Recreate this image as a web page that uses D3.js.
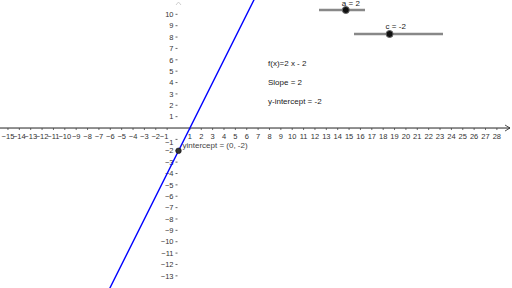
<!DOCTYPE html>
<html><head><meta charset="utf-8">
<script src="https://cdn.jsdelivr.net/npm/d3@7"></script>
<style>body{margin:0;background:#fff}svg{display:block}text{font-family:"Liberation Sans",Arial,sans-serif}</style>
</head><body>
<svg id="c" width="512" height="288"></svg>
<script>
const xTicks = [-15,-14,-13,-12,-11,-10,-9,-8,-7,-6,-5,-4,-3,-2,-1,1,2,3,4,5,6,7,8,9,10,11,12,13,14,15,16,17,18,19,20,21,22,23,24,25,26,27,28];
const yTicks = [10,9,8,7,6,5,4,3,2,1,-1,-2,-3,-4,-5,-6,-7,-8,-9,-10,-11,-12,-13];
const slope = [2];
const intercept = [-2];
const lineXs = [-8, 8];
const infoTexts = ["f(x)=2 x - 2", "Slope = 2", "y-intercept = -2"];
const sliderA = {name:"a", value:2, min:-5, max:7};
const sliderC = {name:"c", value:-2, min:-6, max:4};

const svg = d3.select("#c");
const x = d3.scaleLinear().domain([-15.7, 29.33]).range([0, 512]);
const y = d3.scaleLinear().domain([11.26, -14.07]).range([0, 288]);
const fmt = v => (v < 0 ? "\u2212" + Math.abs(v) : String(v));

// x axis
svg.append("line").attr("x1", 0).attr("x2", 510).attr("y1", y(0)).attr("y2", y(0))
  .attr("stroke", "#222").attr("stroke-width", 1);
svg.append("path").attr("d", `M${505},${y(0)-3}L${510},${y(0)}L${505},${y(0)+3}`)
  .attr("fill", "none").attr("stroke", "#222").attr("stroke-width", 0.8);
const xg = svg.append("g");
xg.selectAll("line").data(xTicks).join("line")
  .attr("x1", d => x(d)).attr("x2", d => x(d)).attr("y1", y(0)).attr("y2", y(0) + 2)
  .attr("stroke", "#444").attr("stroke-width", 0.8);
xg.selectAll("text").data(xTicks).join("text")
  .attr("x", d => x(d) - (d === -1 ? 3 : 0)).attr("y", y(0) + (d => 0) () + 11).attr("text-anchor", "middle")
  .attr("font-size", 7.5).attr("fill", "#333").text(fmt);

// y axis labels (axis line hidden)
svg.append("path").attr("d", `M${x(0)-2.5},${5}L${x(0)},${2}L${x(0)+2.5},${5}`)
  .attr("fill", "none").attr("stroke", "#bbb").attr("stroke-width", 0.7);
const yg = svg.append("g");
yg.selectAll("line").data(yTicks).join("line")
  .attr("x1", x(0) - 3).attr("x2", x(0) - 1).attr("y1", d => y(d)).attr("y2", d => y(d))
  .attr("stroke", "#444").attr("stroke-width", 0.8);
yg.selectAll("text").data(yTicks).join("text")
  .attr("x", x(0) - 5).attr("y", d => y(d) + (d === -1 ? 6 : 2.7)).attr("text-anchor", "end")
  .attr("font-size", 7.5).attr("fill", "#333").text(fmt);

// line f(x)
const m = slope[0], b = intercept[0];
svg.append("line")
  .attr("x1", x(lineXs[0])).attr("y1", y(m * lineXs[0] + b))
  .attr("x2", x(lineXs[1])).attr("y2", y(m * lineXs[1] + b))
  .attr("stroke", "#0000ff").attr("stroke-width", 1.4);

// y-intercept point
svg.append("circle").attr("cx", x(0)).attr("cy", y(b)).attr("r", 2.8)
  .attr("fill", "#333").attr("stroke", "#000").attr("stroke-width", 0.5);
svg.append("text").attr("x", x(0) + 4).attr("y", y(b) - 3)
  .attr("font-size", 8).attr("fill", "#444").text("yintercept = (0, -2)");

// info texts
svg.selectAll(".info").data(infoTexts).join("text").attr("class", "info")
  .attr("x", 268).attr("y", (d, i) => 66 + i * 19)
  .attr("font-size", 8).attr("fill", "#222").text(d => d);

// sliders
function slider(s, x0, x1, yy, dy) {
  const sc = d3.scaleLinear().domain([s.min, s.max]).range([x0, x1]);
  svg.append("line").attr("x1", x0).attr("x2", x1).attr("y1", yy).attr("y2", yy)
    .attr("stroke", "#888").attr("stroke-width", 2.5);
  svg.append("circle").attr("cx", sc(s.value)).attr("cy", yy).attr("r", 3.5)
    .attr("fill", "#111").attr("stroke", "#666").attr("stroke-width", 1);
  svg.append("text").attr("x", sc(s.value) - 4).attr("y", yy - dy)
    .attr("font-size", 8).attr("fill", "#222").text(s.name + " = " + s.value);
}
slider(sliderA, 319, 365, 10, 3.8);
slider(sliderC, 354, 443, 34, 5);
</script>
</body></html>
